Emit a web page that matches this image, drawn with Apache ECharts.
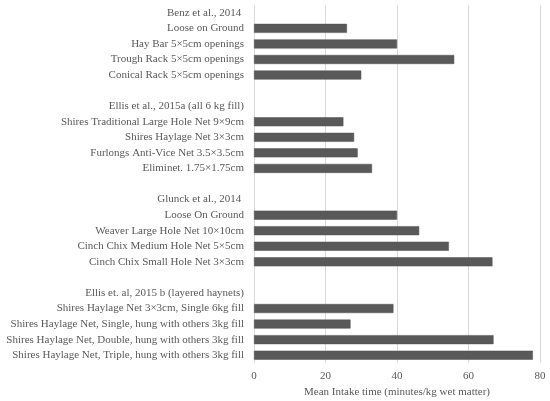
<!DOCTYPE html>
<html>
<head>
<meta charset="utf-8">
<script src="https://cdn.jsdelivr.net/npm/echarts@6/dist/echarts.min.js"></script>
<style>
  html, body { margin: 0; padding: 0; background: #fff; }
  #main { width: 550px; height: 401px; }
</style>
</head>
<body>
<div id="main"></div>
<script>
// rows from top to bottom; headers and spacer rows carry no value
var categories = [
  'Benz et al., 2014 ',
  'Loose on Ground',
  'Hay Bar 5×5cm openings',
  'Trough Rack 5×5cm openings',
  'Conical Rack 5×5cm openings',
  ' ',
  'Ellis et al., 2015a (all 6 kg fill)',
  'Shires Traditional Large Hole Net 9×9cm',
  'Shires Haylage Net 3×3cm',
  'Furlongs Anti-Vice Net 3.5×3.5cm',
  'Eliminet. 1.75×1.75cm',
  '  ',
  'Glunck et al., 2014 ',
  'Loose On Ground',
  'Weaver Large Hole Net 10×10cm',
  'Cinch Chix Medium Hole Net 5×5cm',
  'Cinch Chix Small Hole Net 3×3cm',
  '   ',
  'Ellis et. al, 2015 b (layered haynets)',
  'Shires Haylage Net 3×3cm, Single 6kg fill',
  'Shires Haylage Net, Single, hung with others 3kg fill',
  'Shires Haylage Net, Double, hung with others 3kg fill',
  'Shires Haylage Net, Triple, hung with others 3kg fill'
];
var intakeTime = [
  null, 26, 40, 56, 30,
  null,
  null, 25, 28, 29, 33,
  null,
  null, 40, 46.2, 54.5, 66.7,
  null,
  null, 39, 27, 67, 78
];
var xTicks = [0, 20, 40, 60, 80];

var myChart = echarts.init(document.getElementById('main'));
var option = {
    animation: false,
    textStyle: { fontFamily: 'Liberation Serif' },
    grid: { left: 254, right: 10, top: 5, bottom: 38, containLabel: false, outerBoundsMode: 'none' },
    xAxis: {
        type: 'value',
        min: xTicks[0],
        max: xTicks[xTicks.length - 1],
        interval: xTicks[1] - xTicks[0],
        name: 'Mean Intake time (minutes/kg wet matter)',
        nameLocation: 'middle',
        nameGap: 23,
        nameTextStyle: { color: '#595959', fontSize: 11, fontFamily: 'Liberation Serif' },
        axisLine: { show: false },
        axisTick: { show: false },
        axisLabel: { color: '#595959', fontSize: 11, margin: 8, fontFamily: 'Liberation Serif' },
        splitLine: { show: true, lineStyle: { color: '#d9d9d9', width: 1 } }
    },
    yAxis: {
        type: 'category',
        inverse: true,
        data: categories,
        axisLine: { show: false },
        axisTick: { show: false },
        axisLabel: { color: '#595959', fontSize: 11, margin: 10, interval: 0, fontFamily: 'Liberation Serif' }
    },
    series: [
        {
            type: 'bar',
            data: intakeTime,
            barWidth: 9,
            itemStyle: { color: '#595959', borderColor: '#505050', borderWidth: 0.5 }
        }
    ]
};
myChart.setOption(option);
</script>
</body>
</html>
